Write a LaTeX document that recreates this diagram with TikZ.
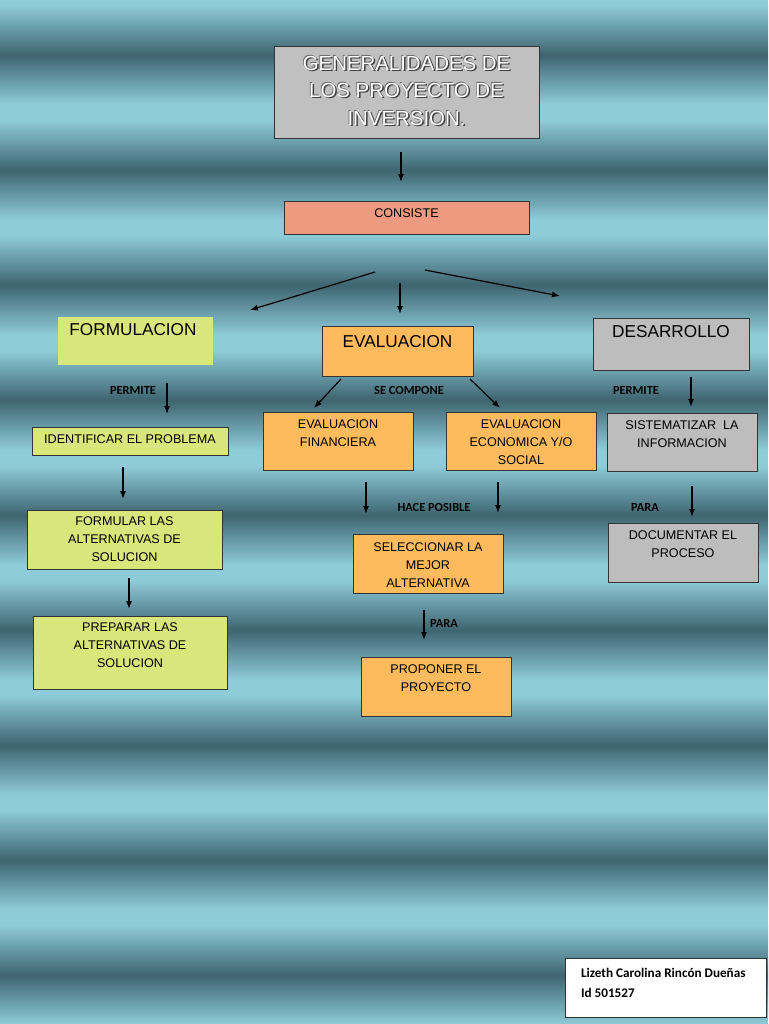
\documentclass[tikz,border=0pt]{standalone}
\usepackage{fontspec}
\setmainfont{Liberation Sans}
\newfontfamily\carlfont{Carlito}
\usetikzlibrary{shadings,arrows.meta}
\definecolor{lightbg}{HTML}{8FCCDA}
\definecolor{darkbg}{HTML}{3E6570}
\definecolor{ygreen}{HTML}{D7E77C}
\definecolor{orng}{HTML}{FDBB5E}
\definecolor{salmon}{HTML}{EE9A80}
\definecolor{gbox}{HTML}{BDBDBD}
\begin{document}
\begin{tikzpicture}[x=0.5pt,y=-0.5pt,
  box/.style={draw=black!80,line width=0.4pt,inner sep=0pt,align=center},
  bt/.style={font=\fontsize{6.3}{9}\selectfont,align=center,text=black},
  lab/.style={font=\carlfont\bfseries\fontsize{6.2}{8}\selectfont},
  arr/.style={-{Latex[length=4pt,width=3pt]},line width=0.6pt},
  big/.style={font=\fontsize{8.6}{10}\selectfont},
  ttl/.style={font=\fontsize{10.2}{12}\selectfont}]
\useasboundingbox (0,0) rectangle (768,1024);
\fill[lightbg] (0,0) rectangle (768,1024);
\foreach \c in {55,170,...,1090}{
  \shade[top color=lightbg,bottom color=lightbg,middle color=darkbg,shading=axis]
    (0,\c-50) rectangle (768,\c+50);}
% title
\node[box,fill=gbox!95,minimum width=265*0.5pt,minimum height=92*0.5pt] (t) at (406.5,92) {};
\foreach \y/\s in {63/GENERALIDADES DE,90/LOS PROYECTO DE,118/INVERSION.}{
  \node[ttl,text=black!75] at (408,\y+1.5) {\s};
  \node[ttl,text=black!60] at (405.8,\y-0.6) {\s};
  \node[ttl,text=white] at (406.5,\y) {\s};}
\node[box,fill=salmon,minimum width=245*0.5pt,minimum height=33*0.5pt] (c) at (406.5,217.5) {};
\node[bt] at (406.5,213) {CONSISTE};
\coordinate (a1) at (401,152); \coordinate (a2) at (401,182);
\draw[arr] (a1)--(a2);
\coordinate (b0) at (375,272); \coordinate (b1) at (250,310);
\coordinate (b2) at (400,283); \coordinate (b3) at (400,314);
\coordinate (b4) at (425,270); \coordinate (b5) at (560,296);
\draw[arr] (b0)--(b1); \draw[arr] (b2)--(b3); \draw[arr] (b4)--(b5);
% level 1
\node[fill=ygreen,minimum width=155*0.5pt,minimum height=48*0.5pt,inner sep=0pt] (f) at (135.5,341) {};
\node[big] at (133,330) {FORMULACION};
\node[box,fill=orng,minimum width=151*0.5pt,minimum height=50*0.5pt] (e) at (397.5,351) {};
\node[big] at (397.5,342) {EVALUACION};
\node[box,fill=gbox,minimum width=156*0.5pt,minimum height=52*0.5pt] (d) at (671,344) {};
\node[big] at (671,332) {DESARROLLO};
% labels and arrows
\node[lab] at (133,390) {PERMITE};
\node[lab] at (409,390) {SE COMPONE};
\node[lab] at (636,390) {PERMITE};
\node[lab] at (434,507) {HACE POSIBLE};
\node[lab] at (645,507) {PARA};
\node[lab] at (444,623) {PARA};
\foreach \x/\ya/\xb/\yb in {167/383/167/414, 341/379/314/408, 470/379/500/408, 691/377/691/407,
  123/467/123/499, 366/482/366/514, 498/482/498/513, 692/486/692/517, 129/578/129/609, 424/610/424/640}{
  \coordinate (p) at (\x,\ya); \coordinate (q) at (\xb,\yb); \draw[arr] (p)--(q);}
% boxes
\node[box,fill=ygreen,minimum width=196*0.5pt,minimum height=28*0.5pt] (n1) at (130,441) {};
\node[bt] at (130,439) {IDENTIFICAR EL PROBLEMA};
\node[box,fill=orng,minimum width=150*0.5pt,minimum height=58*0.5pt] (n2) at (338,441) {};
\node[bt] at (338,433) {EVALUACION\\FINANCIERA};
\node[box,fill=orng,minimum width=150*0.5pt,minimum height=58*0.5pt] (n3) at (521,441) {};
\node[bt] at (521,442) {EVALUACION\\ECONOMICA Y/O\\SOCIAL};
\node[box,fill=gbox,minimum width=150*0.5pt,minimum height=58*0.5pt] (n4) at (682,442) {};
\node[bt] at (682,434) {SISTEMATIZAR\ \ LA\\INFORMACION};
\node[box,fill=ygreen,minimum width=195*0.5pt,minimum height=59*0.5pt] (n5) at (124.5,539.5) {};
\node[bt] at (124.5,539.5) {FORMULAR LAS\\ALTERNATIVAS DE\\SOLUCION};
\node[box,fill=orng,minimum width=150*0.5pt,minimum height=59*0.5pt] (n6) at (428,563.5) {};
\node[bt] at (428,565) {SELECCIONAR LA\\MEJOR\\ALTERNATIVA};
\node[box,fill=gbox,minimum width=150*0.5pt,minimum height=59*0.5pt] (n7) at (683,552.5) {};
\node[bt] at (683,544) {DOCUMENTAR EL\\PROCESO};
\node[box,fill=ygreen,minimum width=194*0.5pt,minimum height=73*0.5pt] (n8) at (130,652.5) {};
\node[bt] at (130,645.5) {PREPARAR LAS\\ALTERNATIVAS DE\\SOLUCION};
\node[box,fill=orng,minimum width=150*0.5pt,minimum height=59*0.5pt] (n9) at (436,686.5) {};
\node[bt] at (436,678.5) {PROPONER EL\\PROYECTO};
% signature
\node[box,fill=white,minimum width=201*0.5pt,minimum height=59*0.5pt] (s) at (665.5,987.5) {};
\node[font=\carlfont\bfseries\fontsize{6.6}{10}\selectfont,align=left,anchor=west] at (574,983) {Lizeth Carolina Rincón Dueñas\\Id 501527};
\end{tikzpicture}
\end{document}
